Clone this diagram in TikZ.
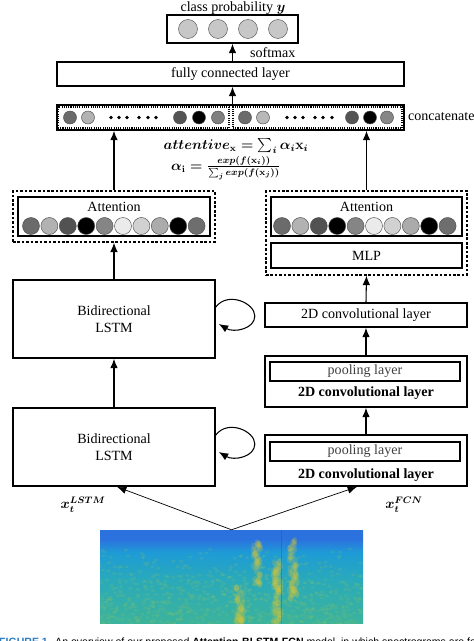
\documentclass[tikz,border=0pt]{standalone}
\usepackage{amsmath}
\usepackage{fontspec}
\setmainfont{Liberation Serif}
\newfontfamily\capfont{Liberation Sans}
\usetikzlibrary{arrows.meta,calc}

\definecolor{specBlue}{HTML}{2C72DE}
\definecolor{specCyan}{HTML}{1E9BD6}
\definecolor{specMid}{HTML}{2AAABA}
\definecolor{specBot}{HTML}{3CB39C}
\definecolor{specGrn}{HTML}{8CC664}
\definecolor{specYel}{HTML}{D6C63A}
\definecolor{capBlue}{HTML}{2A7BC4}
\pgfdeclareverticalshading{specshade}{100bp}{color(0bp)=(specBot); color(25bp)=(specBot);
  color(48bp)=(specMid); color(63bp)=(specCyan); color(70bp)=(specBlue); color(100bp)=(specBlue)}

\begin{document}
\begin{tikzpicture}[x=0.3mm,y=-0.3mm,>={Latex[length=8pt,width=6.5pt]},
  every node/.style={font=\fontsize{12}{14}\selectfont},
  layer/.style={draw,line width=1.4pt,rectangle,inner sep=0pt},
  grp/.style={draw,line width=1.2pt,dash pattern=on 2.2pt off 1.6pt,rectangle,inner sep=0pt},
  half/.style={draw,densely dotted,line width=0.9pt,rectangle,inner sep=0pt},
  unit/.style={circle,draw=black!70,line width=0.4pt,inner sep=0pt},
  pt/.style={circle,fill=black,inner sep=0pt,minimum size=3.2pt},
  link/.style={->,line width=0.9pt}]
\useasboundingbox (0,0) rectangle (474,641);

% output layer
\node[layer,minimum width=39.3mm,minimum height=8.4mm] (prob) at (232.5,29) {};
\foreach \x [count=\i] in {188,218,248,278}
  \node[unit,fill=black!22,minimum size=5.7mm] (p\i) at (\x,29) {};
\node (probt) at (233,8) {class probability $\boldsymbol{y}$};

\node[layer,minimum width=104.1mm,minimum height=7.2mm] (fc) at (230.5,74) {fully connected layer};
\node[anchor=west] (smx) at (246,53) {softmax};
\draw[link] (prob.south |- fc.north) -- (prob.south);

% concatenation
\node[layer,minimum width=104.1mm,minimum height=7.5mm] (cat) at (230.5,117.5) {};
\node[half,minimum width=51.3mm,minimum height=6.3mm] (catL) at (143.5,117.5) {};
\node[half,minimum width=50.7mm,minimum height=6.3mm] (catR) at (317.5,117.5) {};
\node[anchor=west] (catt) at (404,117) {concatenate};
\foreach \x/\c [count=\i] in {70/58,88/30,180/67,199/100,218/50,245/58,263/28,352/67,370/100,387/47}
  \node[unit,fill=black!\c,minimum size=3.9mm] (c\i) at (\x,117.5) {};
\foreach \x in {111,119,127,139,148,156,287,295,303,315,323,332}
  \node[pt] (d\x) at (\x,117.5) {};
\draw[link] (prob.south |- cat.north) -- (prob.south |- fc.south);

\node (attx) at (236,146) {$\boldsymbol{attentive_{\mathbf{x}} = \sum_i \alpha_i \mathbf{x}_i}$};
\node (alph) at (226,168) {$\boldsymbol{\alpha_{\mathbf{i}} = \frac{exp(f(\mathbf{x}_i))}{\sum_j exp(f(\mathbf{x}_j))}}$};

% attention, left
\node[grp,minimum width=60.6mm,minimum height=15.3mm] (attLg) at (114,216.5) {};
\node[layer,minimum width=57.6mm,minimum height=11.7mm] (attL) at (114,216.5) {};
\node (attLt) at (114,207) {Attention};
% attention, right
\node[grp,minimum width=60.3mm,minimum height=25.2mm] (attRg) at (366.5,233) {};
\node[layer,minimum width=57.3mm,minimum height=11.7mm] (attR) at (366.5,216.5) {};
\node (attRt) at (366.5,207) {Attention};
\node[layer,minimum width=57.3mm,minimum height=7.5mm] (mlp) at (366.5,255.5) {MLP};
\foreach \c [count=\i] in {58,30,68,100,48,8,18,33,100,57}{
  \node[unit,fill=black!\c,minimum size=5.1mm] (al\i) at ({31+18.4*(\i-1)},226) {};
  \node[unit,fill=black!\c,minimum size=5.1mm] (ar\i) at ({282+18.4*(\i-1)},226) {};
}
\draw[link] (attLg.north) -- (attLg.north |- cat.south);
\draw[link] (attRg.north) -- (attRg.north |- cat.south);

% BLSTM branch
\node[layer,minimum width=60.6mm,minimum height=23.4mm,align=center] (lstmA) at (114,319) {Bidirectional\\LSTM};
\node[layer,minimum width=60.6mm,minimum height=23.4mm,align=center] (lstmB) at (114,447) {Bidirectional\\LSTM};
\draw[link] (lstmA.north) -- (attLg.south);
\draw[link] (lstmB.north) -- (lstmA.south);
\foreach \n in {lstmA,lstmB}
  \draw[link] ($(\n.east)+(0,-12)$) .. controls +(12,-16) and +(0,-13) .. ($(\n.east)+(39,-3)$)
    .. controls +(0,13) and +(15,9) .. ($(\n.east)+(3,5)$);

% FCN branch
\node[layer,minimum width=60.6mm,minimum height=7.2mm] (convA) at (366,315) {2D convolutional layer};
\node[layer,minimum width=60.6mm,minimum height=15.3mm] (convB) at (366,381.5) {};
\node[layer,line width=1.2pt,minimum width=57mm,minimum height=5.7mm,text=black!75] (poolB) at (365,371.5) {pooling layer};
\node (convBt) at (366,393) {\bfseries 2D convolutional layer};
\node[layer,minimum width=60.6mm,minimum height=15.3mm] (convC) at (366,460.5) {};
\node[layer,line width=1.2pt,minimum width=57mm,minimum height=5.7mm,text=black!75] (poolC) at (365,451.5) {pooling layer};
\node (convCt) at (366,475) {\bfseries 2D convolutional layer};
\draw[link] (convA.north) -- (attRg.south);
\draw[link] (convB.north) -- (convA.south);
\draw[link] (convC.north) -- (convB.south);

% spectrogram
\node[shade,shading=specshade,minimum width=78.9mm,minimum height=27.9mm,inner sep=0pt] (spec) at (231.5,576.5) {};
\begin{scope}
\clip (spec.south west) rectangle (spec.north east);
\pgfmathsetseed{11}
\foreach \i in {1,...,700}{
  \pgfmathsetmacro\px{100+263*rnd}\pgfmathsetmacro\py{546+78*sqrt(rnd)}
  \fill[specGrn,opacity=0.18] (\px,\py) ellipse (0.6mm and 0.4mm);
}
\foreach \sx/\ya/\yb/\n in {257/542/585/40,277/556/623/70,293/540/600/55,240/586/623/40}
  \foreach \i in {1,...,\n}{
    \pgfmathsetmacro\px{\sx+4*rand}\pgfmathsetmacro\py{\ya+(\yb-\ya)*rnd}
    \fill[specYel,opacity=0.2] (\px,\py) ellipse (0.8mm and 1.1mm);
  }
\draw[specBlue!60!black,opacity=0.3,line width=0.5pt] (281,530) -- (281,623);
\end{scope}
\draw[->,line width=0.6pt] (spec.north) -- ($(lstmB.south)+(3,0)$);
\draw[->,line width=0.6pt] (spec.north) -- ($(convC.south)+(-9,0)$);
\node[inner sep=0pt] (xl) at (83,505) {$\boldsymbol{x_t^{LSTM}}$};
\node[inner sep=0pt] (xf) at (404,505) {$\boldsymbol{x_t^{FCN}}$};

% caption (cut by the page edge)
\node[anchor=base west,inner sep=0pt,font=\capfont\bfseries\fontsize{9}{10}\selectfont,text=capBlue] (figno) at (-1,645) {FIGURE 1.};
\node[anchor=base west,inner sep=0pt,font=\capfont\fontsize{9}{10}\selectfont] (capt) at (55,645) {An overview of our proposed \textbf{Attention-BLSTM-FCN} model, in which spectrograms are fed};
\end{tikzpicture}
\end{document}
